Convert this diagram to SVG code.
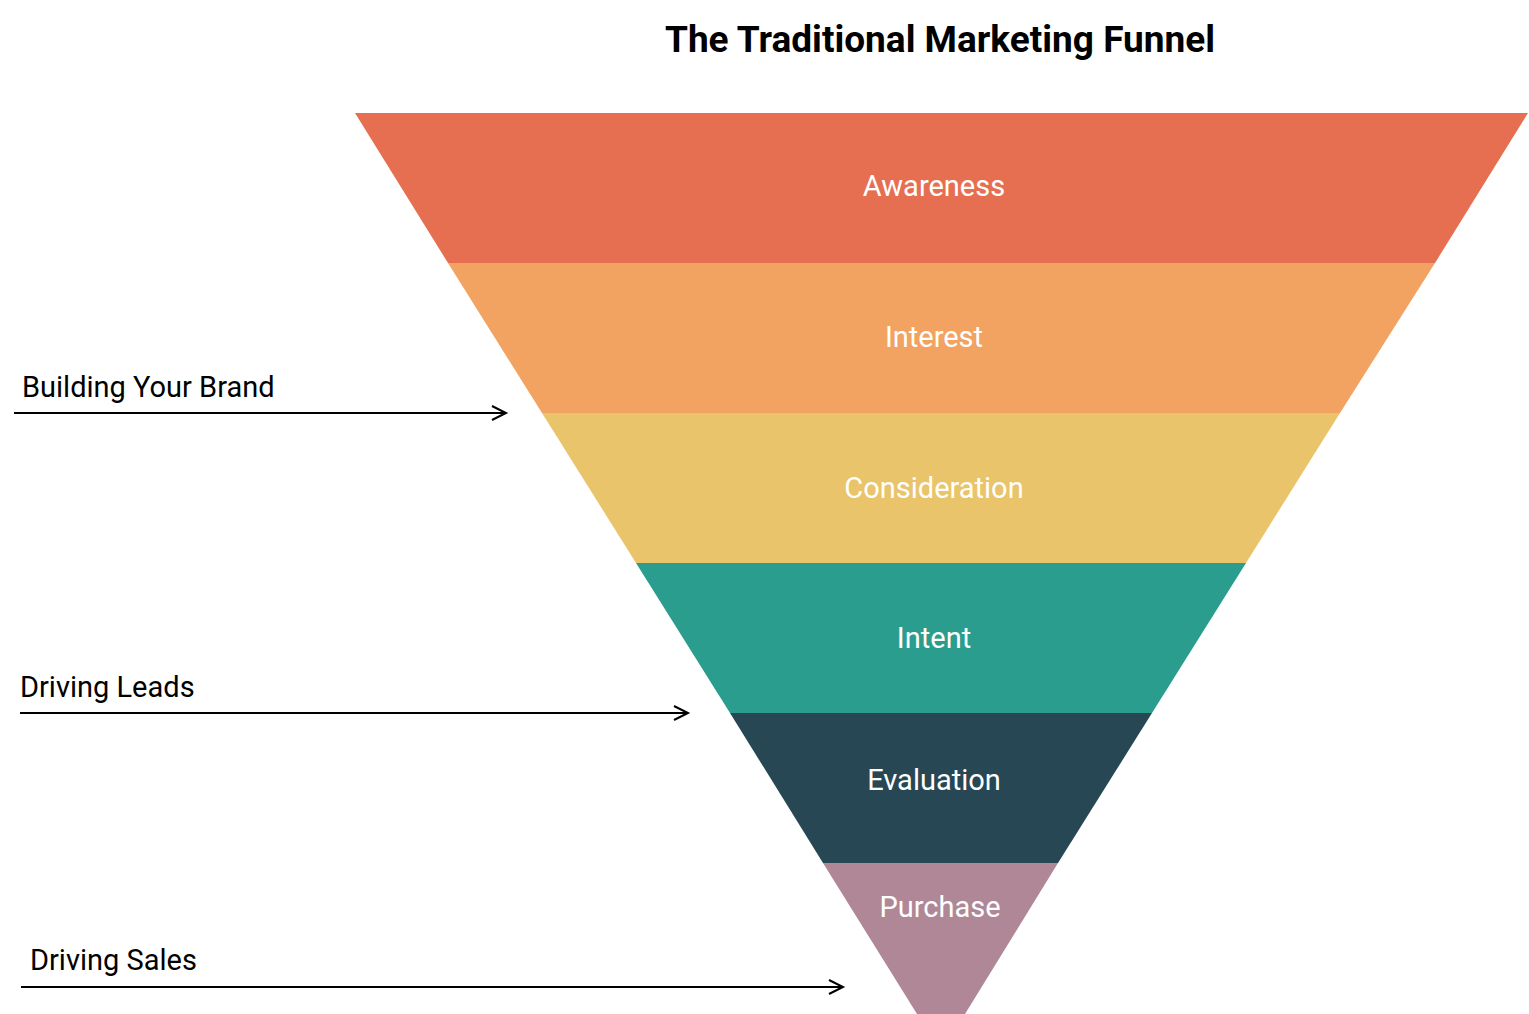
<svg xmlns="http://www.w3.org/2000/svg" width="1529" height="1014" viewBox="0 0 1529 1014">
<style>
.lbl{font-family:Roboto,"Liberation Sans",sans-serif;font-size:29px;fill:#fff;text-anchor:middle}
.side{font-family:Roboto,"Liberation Sans",sans-serif;font-size:29px;fill:#000}
.ln{stroke:#000;stroke-width:2;fill:none}
</style>
<defs><marker id="ah" markerWidth="20" markerHeight="20" refX="16" refY="8" orient="auto" markerUnits="userSpaceOnUse"><path d="M2,1 L16,8 L2,15" fill="none" stroke="#000" stroke-width="2"/></marker></defs>
<rect width="1529" height="1014" fill="#fff"/>
<text x="940" y="52" font-family="Roboto,'Liberation Sans',sans-serif" font-size="37" font-weight="bold" text-anchor="middle">The Traditional Marketing Funnel</text>
<g id="awareness"><polygon points="355,113 1528,113 1435,263 448,263" fill="#E66F51"/><text class="lbl" x="934" y="196">Awareness</text></g>
<g id="interest"><polygon points="448,263 1435,263 1340,413 542,413" fill="#F2A261"/><text class="lbl" x="934" y="347">Interest</text></g>
<g id="consideration"><polygon points="542,413 1340,413 1246,563 636,563" fill="#E9C46A"/><text class="lbl" x="934" y="498">Consideration</text></g>
<g id="intent"><polygon points="636,563 1246,563 1152,713 730,713" fill="#2A9D8E"/><text class="lbl" x="934" y="648">Intent</text></g>
<g id="evaluation"><polygon points="730,713 1152,713 1058,863 823,863" fill="#264753"/><text class="lbl" x="934" y="790">Evaluation</text></g>
<g id="purchase"><polygon points="823,863 1058,863 965,1014 917,1014" fill="#B08797"/><text class="lbl" x="940" y="917">Purchase</text></g>
<g id="side-labels"><text class="side" x="22" y="397">Building Your Brand</text><text class="side" x="20" y="697">Driving Leads</text><text class="side" x="30" y="970">Driving Sales</text></g>
<g id="connectors">
<line class="ln" x1="14" y1="413" x2="506" y2="413" marker-end="url(#ah)"/>
<line class="ln" x1="20" y1="713" x2="688" y2="713" marker-end="url(#ah)"/>
<line class="ln" x1="21" y1="987" x2="843" y2="987" marker-end="url(#ah)"/>
</g>
</svg>
